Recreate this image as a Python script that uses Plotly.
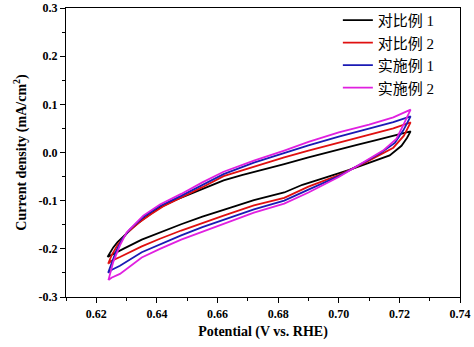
import plotly.graph_objects as go

names = ["对比例 1", "对比例 2", "实施例 1", "实施例 2"]
colors = ["#000000", "#e01010", "#1a1ab4", "#e020e0"]

# CV loops: forward (upper) branch left->right, then reverse (lower) branch right->left
x_black = [0.6237, 0.6256, 0.6270, 0.6289, 0.6320, 0.6355, 0.6410, 0.6460, 0.6520, 0.6570, 0.6620,
           0.6680, 0.6750, 0.6820, 0.6900, 0.7000, 0.7060, 0.7120, 0.7180, 0.7237,
           0.7225, 0.7207, 0.7168, 0.7100, 0.7035, 0.6950, 0.6880, 0.6820, 0.6720, 0.6620,
           0.6550, 0.6480, 0.6410, 0.6350, 0.6289, 0.6255, 0.6237]
y_black = [-0.217, -0.197, -0.186, -0.175, -0.156, -0.138, -0.114, -0.099, -0.084, -0.071, -0.058,
           -0.047, -0.036, -0.024, -0.010, 0.007, 0.016, 0.025, 0.035, 0.044,
           0.030, 0.014, -0.006, -0.022, -0.036, -0.053, -0.067, -0.083, -0.099, -0.119,
           -0.133, -0.149, -0.166, -0.181, -0.200, -0.210, -0.217]

x_red = [0.6239, 0.6250, 0.6270, 0.6300, 0.6340, 0.6380, 0.6420, 0.6480, 0.6550, 0.6620,
         0.6720, 0.6820, 0.6900, 0.7000, 0.7100, 0.7180, 0.7237,
         0.7215, 0.7180, 0.7130, 0.7090, 0.7000, 0.6900, 0.6820, 0.6720, 0.6620,
         0.6550, 0.6480, 0.6410, 0.6350, 0.6278, 0.6250, 0.6239]
y_red = [-0.231, -0.214, -0.192, -0.168, -0.146, -0.128, -0.112, -0.094, -0.072, -0.049,
         -0.029, -0.010, 0.004, 0.021, 0.037, 0.050, 0.0626,
         0.035, 0.010, -0.006, -0.020, -0.047, -0.071, -0.094, -0.110, -0.131,
         -0.146, -0.162, -0.179, -0.195, -0.217, -0.225, -0.231]

x_blue = [0.6239, 0.6250, 0.6265, 0.6285, 0.6310, 0.6355, 0.6410, 0.6480, 0.6550, 0.6620,
          0.6720, 0.6820, 0.6900, 0.7000, 0.7100, 0.7180, 0.7237,
          0.7213, 0.7185, 0.7140, 0.7090, 0.7000, 0.6900, 0.6820, 0.6720, 0.6620,
          0.6550, 0.6480, 0.6410, 0.6350, 0.6278, 0.6250, 0.6239]
y_blue = [-0.250, -0.232, -0.205, -0.180, -0.160, -0.134, -0.111, -0.090, -0.067, -0.045,
          -0.021, -0.001, 0.015, 0.033, 0.049, 0.063, 0.075,
          0.046, 0.020, 0.000, -0.018, -0.049, -0.077, -0.100, -0.118, -0.139,
          -0.155, -0.172, -0.190, -0.207, -0.235, -0.244, -0.250]

x_mag = [0.6240, 0.6256, 0.6278, 0.6300, 0.6355, 0.6410, 0.6480, 0.6550, 0.6620,
         0.6720, 0.6820, 0.6900, 0.7000, 0.7100, 0.7180, 0.7237,
         0.7212, 0.7190, 0.7146, 0.7090, 0.7000, 0.6900, 0.6820, 0.6720, 0.6620,
         0.6550, 0.6480, 0.6410, 0.6350, 0.6278, 0.6250, 0.6240]
y_mag = [-0.265, -0.227, -0.193, -0.166, -0.131, -0.108, -0.086, -0.062, -0.040,
         -0.017, 0.004, 0.022, 0.042, 0.058, 0.073, 0.089,
         0.056, 0.028, 0.004, -0.017, -0.051, -0.083, -0.106, -0.125, -0.148,
         -0.164, -0.181, -0.200, -0.218, -0.252, -0.260, -0.265]

xs = [x_black, x_red, x_blue, x_mag]
ys = [y_black, y_red, y_blue, y_mag]

x_range = [0.61, 0.74]
y_range = [-0.3, 0.3]
x_ticks = [0.62, 0.64, 0.66, 0.68, 0.70, 0.72, 0.74]
x_ticklabels = ["0.62", "0.64", "0.66", "0.68", "0.70", "0.72", "0.74"]
y_ticks = [-0.3, -0.2, -0.1, 0.0, 0.1, 0.2, 0.3]
y_ticklabels = ["-0.3", "-0.2", "-0.1", "0.0", "0.1", "0.2", "0.3"]

fig = go.Figure()
for n, c, x, y in zip(names, colors, xs, ys):
    fig.add_trace(go.Scatter(x=x, y=y, mode="lines", name=n,
                             line=dict(color=c, width=1.8)))

serif = "Liberation Serif, Times New Roman, serif"
tickfont = dict(family=serif, size=12, color="black", weight="bold")

fig.update_layout(
    width=474, height=347,
    margin=dict(l=66, r=14, t=8, b=50, autoexpand=False),
    paper_bgcolor="white", plot_bgcolor="white",
    showlegend=True,
    legend=dict(x=0.69, y=1.014, xanchor="left", yanchor="top",
                bgcolor="rgba(0,0,0,0)", tracegroupgap=0,
                font=dict(family="Liberation Serif, Noto Sans CJK SC", size=15, color="black")),
    xaxis=dict(range=x_range, tickmode="array", tickvals=x_ticks, ticktext=x_ticklabels,
               ticks="outside", ticklen=5, tickwidth=1, tickcolor="black", automargin=False,
               minor=dict(dtick=0.01, tick0=0.61, ticks="outside", ticklen=3, tickcolor="black"),
               showline=True, linecolor="black", linewidth=1.2, mirror=True,
               showgrid=False, zeroline=False, tickfont=tickfont,
               title=dict(text="Potential (V vs. RHE)", standoff=6,
                          font=dict(family=serif, size=14, color="black", weight="bold"))),
    yaxis=dict(range=y_range, tickmode="array", tickvals=y_ticks, ticktext=y_ticklabels,
               ticks="outside", ticklen=5, tickwidth=1, tickcolor="black", automargin=False,
               minor=dict(dtick=0.05, tick0=-0.3, ticks="outside", ticklen=3, tickcolor="black"),
               showline=True, linecolor="black", linewidth=1.2, mirror=True,
               showgrid=False, zeroline=False, tickfont=tickfont,
               title=dict(text="Current density (mA/cm<sup>2</sup>)", standoff=8,
                          font=dict(family=serif, size=14, color="black", weight="bold"))),
    xaxis2=dict(range=x_range, overlaying="x", side="top", tickmode="array", tickvals=x_ticks,
                ticks="inside", ticklen=4, tickcolor="black", showticklabels=False, automargin=False,
                minor=dict(dtick=0.01, tick0=0.61, ticks="inside", ticklen=2, tickcolor="black"),
                showgrid=False, zeroline=False),
    yaxis2=dict(range=y_range, overlaying="y", side="right", tickmode="array", tickvals=y_ticks,
                ticks="inside", ticklen=4, tickcolor="black", showticklabels=False, automargin=False,
                minor=dict(dtick=0.05, tick0=-0.3, ticks="inside", ticklen=2, tickcolor="black"),
                showgrid=False, zeroline=False),
)

fig.write_html("out.html")
